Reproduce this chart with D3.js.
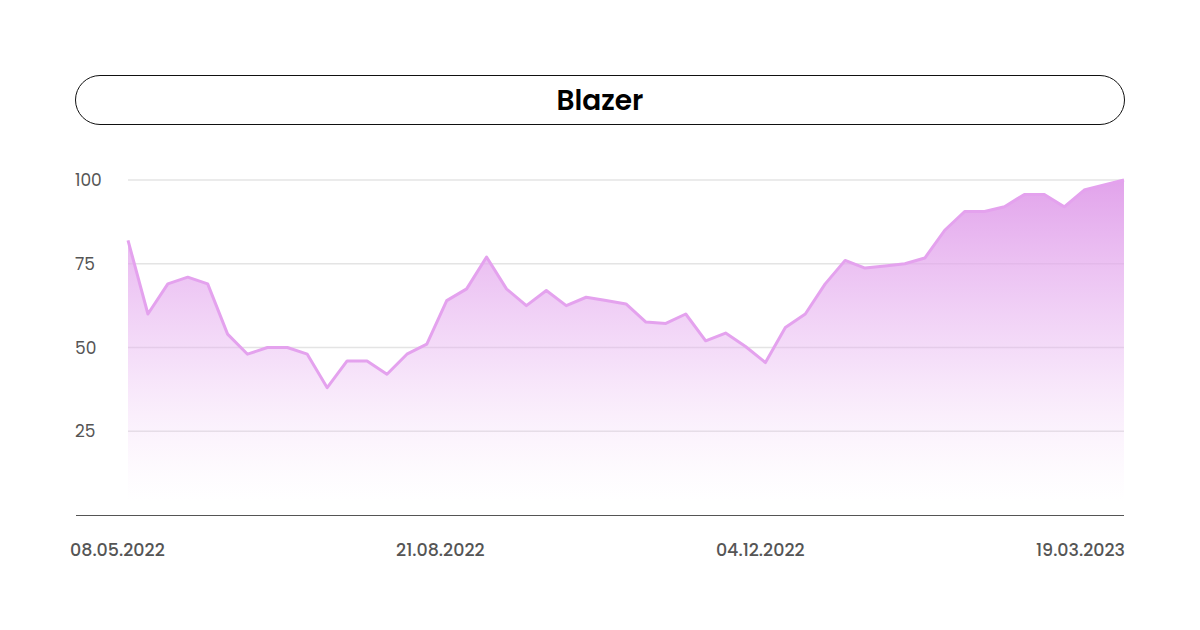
<!DOCTYPE html>
<html>
<head>
<meta charset="utf-8">
<script src="https://cdn.jsdelivr.net/npm/d3@7"></script>
<style>
  body { margin: 0; background: #fff; }
  text { font-family: Poppins, Inter, "Noto Sans", sans-serif; }
</style>
</head>
<body>
<div id="chart"></div>
<script>
const width = 1200;
const height = 630;

const title = "Blazer";
const values = [82, 60, 69, 71, 69, 54, 48, 50, 50, 48,
                38, 46, 46, 42, 48, 51, 64, 67.5, 77, 67.5,
                62.5, 67, 62.5, 65, 64, 63, 57.6, 57.2, 60, 52,
                54.3, 50.3, 45.5, 56, 60, 69, 76, 73.7, 74.3, 75,
                76.7, 85, 90.6, 90.6, 92, 95.7, 95.7, 92, 97, 98.5, 100];
const yTicks = [25, 50, 75, 100];
const dateLabels = ["08.05.2022", "21.08.2022", "04.12.2022", "19.03.2023"];

const svg = d3.select("#chart").append("svg")
  .attr("width", width)
  .attr("height", height);

// title pill
svg.append("rect")
  .attr("x", 75.5).attr("y", 75.5)
  .attr("width", 1049).attr("height", 49)
  .attr("rx", 24.5)
  .attr("fill", "none")
  .attr("stroke", "#111")
  .attr("stroke-width", 1);
svg.append("text")
  .attr("x", 600).attr("y", 110)
  .attr("text-anchor", "middle")
  .attr("font-size", 28)
  .attr("font-weight", 600)
  .attr("fill", "#000")
  .text(title);

const x = d3.scaleLinear().domain([0, values.length - 1]).range([128, 1124]);
const y = d3.scaleLinear().domain([0, 100]).range([515, 180]);

// gradient for area
const defs = svg.append("defs");
const grad = defs.append("linearGradient")
  .attr("id", "fade")
  .attr("gradientUnits", "userSpaceOnUse")
  .attr("x1", 0).attr("x2", 0)
  .attr("y1", y(100)).attr("y2", y(0));
grad.append("stop").attr("offset", "0%").attr("stop-color", "#e09eea").attr("stop-opacity", 0.95);
grad.append("stop").attr("offset", "55%").attr("stop-color", "#e6aef0").attr("stop-opacity", 0.38);
grad.append("stop").attr("offset", "96%").attr("stop-color", "#f2d0f6").attr("stop-opacity", 0.0);

// gridlines
svg.append("g")
  .selectAll("line")
  .data(yTicks)
  .join("line")
  .attr("x1", 128).attr("x2", 1124)
  .attr("y1", d => y(d)).attr("y2", d => y(d))
  .attr("stroke", "#e4e4e4")
  .attr("stroke-width", 1.5);

svg.append("g")
  .selectAll("text")
  .data(yTicks)
  .join("text")
  .attr("x", 75)
  .attr("y", d => y(d) + 6)
  .attr("font-size", 17)
  .attr("fill", "#555")
  .text(d => d);

// area + line
const area = d3.area()
  .x((d, i) => x(i))
  .y0(y(0))
  .y1(d => y(d));
svg.append("path")
  .datum(values)
  .attr("d", area)
  .attr("fill", "url(#fade)");

const line = d3.line()
  .x((d, i) => x(i))
  .y(d => y(d));
svg.append("path")
  .datum(values)
  .attr("d", line)
  .attr("fill", "none")
  .attr("stroke", "#e4a2ee")
  .attr("stroke-width", 3)
  .attr("stroke-linejoin", "round");

// baseline
svg.append("line")
  .attr("x1", 76).attr("x2", 1124)
  .attr("y1", 515.5).attr("y2", 515.5)
  .attr("stroke", "#555")
  .attr("stroke-width", 1);

// date labels, spread like a space-between row
const labels = svg.append("g")
  .selectAll("text")
  .data(dateLabels)
  .join("text")
  .attr("y", 556)
  .attr("font-size", 17.5)
  .attr("font-weight", 500)
  .attr("fill", "#555")
  .text(d => d);

const widths = labels.nodes().map(n => n.getComputedTextLength());
const left = 70, right = 1125;
const gap = (right - left - d3.sum(widths)) / (dateLabels.length - 1);
let cursor = left;
labels.each(function(d, i) {
  d3.select(this).attr("x", cursor);
  cursor += widths[i] + gap;
});
</script>
</body>
</html>
